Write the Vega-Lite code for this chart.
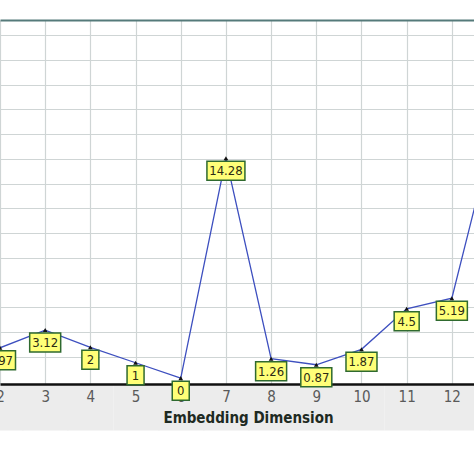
{
  "$schema": "https://vega.github.io/schema/vega-lite/v6.json",
  "width": 474,
  "height": 364,
  "autosize": {"type": "none"},
  "padding": {"left": 0, "top": 20, "right": 0, "bottom": 90},
  "background": "white",
  "config": {"view": {"stroke": null}, "font": "Liberation Sans"},
  "data": {
    "values": [
      {"dim": 2, "value": 1.97},
      {"dim": 3, "value": 3.12},
      {"dim": 4, "value": 2},
      {"dim": 5, "value": 1},
      {"dim": 6, "value": 0},
      {"dim": 7, "value": 14.28},
      {"dim": 8, "value": 1.26},
      {"dim": 9, "value": 0.87},
      {"dim": 10, "value": 1.87},
      {"dim": 11, "value": 4.5},
      {"dim": 12, "value": 5.19},
      {"dim": 13, "value": 16.9}
    ]
  },
  "encoding": {
    "x": {
      "field": "dim",
      "type": "quantitative",
      "scale": {"domain": [2, 12.49], "nice": false, "zero": false},
      "axis": {
        "values": [2, 3, 4, 5, 6, 7, 8, 9, 10, 11, 12],
        "format": "d",
        "grid": true,
        "gridColor": "#cfd5d5",
        "gridWidth": 1.2,
        "domainColor": "#111111",
        "domainWidth": 2.5,
        "tickColor": "#ececec",
        "tickSize": 46,
        "tickWidth": 46,
        "labelFont": "DejaVu Sans Condensed, Liberation Sans, sans-serif",
        "labelFontSize": 15,
        "labelColor": "#5a5a5a",
        "labelPadding": -41,
        "labelFlush": false,
        "labelOverlap": false,
        "labelBound": false,
        "title": "Embedding Dimension",
        "titleFont": "DejaVu Sans Condensed, Liberation Sans, sans-serif",
        "titleFontSize": 15,
        "titleFontWeight": "bold",
        "titleColor": "#1e2a22",
        "titleX": 248,
        "titleY": 26,
        "titleBaseline": "top"
      }
    },
    "y": {
      "field": "value",
      "type": "quantitative",
      "scale": {"domain": [-0.38, 23.25], "nice": false, "zero": false},
      "axis": {
        "values": [1.37, 2.98, 4.59, 6.19, 7.8, 9.41, 11.02, 12.63, 14.23, 15.84, 17.45, 19.06, 20.67, 22.28, 23.25],
        "grid": true,
        "gridColor": {"condition": {"test": "datum.value > 23", "value": "#557a7a"}, "value": "#cfd5d5"},
        "gridWidth": {"condition": {"test": "datum.value > 23", "value": 2}, "value": 1.2},
        "labels": false,
        "ticks": false,
        "domain": false,
        "title": null
      }
    }
  },
  "layer": [
    {
      "mark": {"type": "line", "color": "#3d4fbf", "strokeWidth": 1.3, "clip": true}
    },
    {
      "mark": {
        "type": "point",
        "filled": true,
        "fill": "#ffff78",
        "stroke": "#2f6a2f",
        "strokeWidth": 1.5,
        "opacity": 1,
        "size": 400,
        "yOffset": 12.5
      },
      "encoding": {
        "shape": {
          "condition": [
            {"test": "length(toString(datum.value)) >= 5", "value": "M-1.9,-0.95H1.9V0.95H-1.9Z"},
            {"test": "length(toString(datum.value)) == 4", "value": "M-1.55,-0.95H1.55V0.95H-1.55Z"},
            {"test": "length(toString(datum.value)) == 3", "value": "M-1.25,-0.95H1.25V0.95H-1.25Z"}
          ],
          "value": "M-0.85,-0.95H0.85V0.95H-0.85Z"
        }
      }
    },
    {
      "mark": {"type": "point", "shape": "triangle-up", "size": 22, "filled": true, "color": "#111111", "opacity": 1}
    },
    {
      "mark": {"type": "text", "font": "DejaVu Sans Condensed, Liberation Sans, sans-serif", "fontSize": 13, "color": "#2b2b14", "yOffset": 13, "baseline": "middle"},
      "encoding": {"text": {"field": "value", "type": "nominal"}}
    }
  ]
}
